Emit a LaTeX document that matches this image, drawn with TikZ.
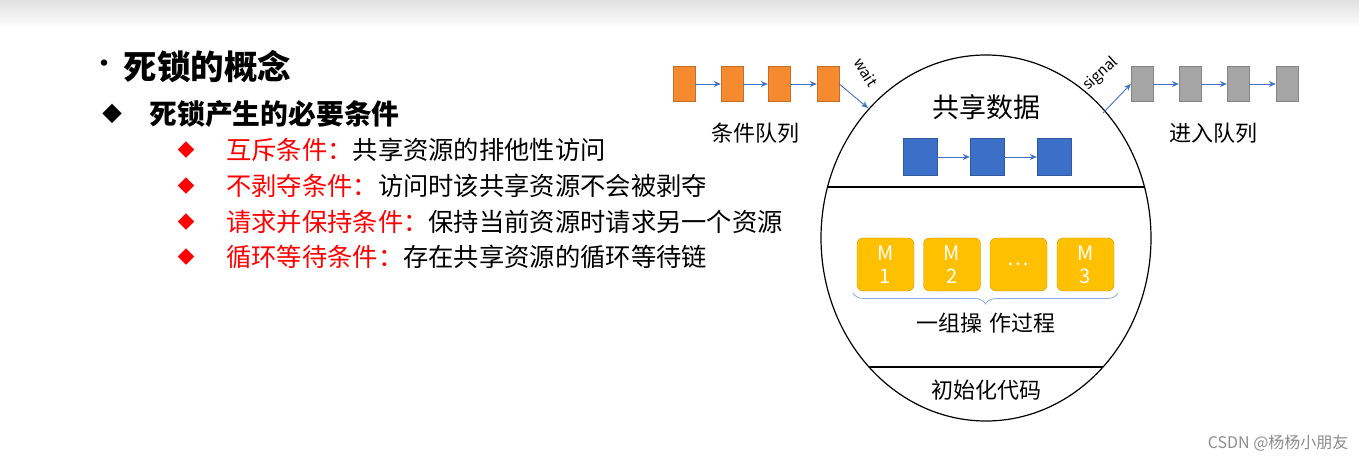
\documentclass[tikz,border=0pt]{standalone}
\usepackage{fontspec}
\setmainfont{Noto Sans CJK SC}
\usetikzlibrary{decorations.pathreplacing,arrows.meta,shapes.geometric}
\definecolor{org}{HTML}{F58A2E}
\definecolor{gry}{HTML}{A5A5A5}
\definecolor{blu}{HTML}{3C6FC8}
\definecolor{mfill}{HTML}{FFC000}
\definecolor{arr}{HTML}{4472C4}
\tikzset{
  fs/.style={font=\fontsize{#1}{#1}\selectfont},
  qbox/.style={draw=#1!80!black,fill=#1,minimum width=22pt,minimum height=35pt,inner sep=0pt},
  bbox/.style={draw=blu!80!black,fill=blu,minimum width=34pt,minimum height=37pt,inner sep=0pt},
  mbox/.style={draw=mfill!80!black,fill=mfill,rounded corners=6pt,minimum width=57pt,minimum height=53pt,inner sep=0pt,text=white,align=center,font=\fontsize{20}{23}\selectfont},
  qarr/.style={draw=arr,-{Stealth[length=7pt,width=6pt]},line width=0.9pt},
}
\begin{document}
\begin{tikzpicture}[x=1pt,y=-1pt]
\useasboundingbox (0,0) rectangle (1359,462);
\shade[top color=black!12,bottom color=white] (0,0) rectangle (1359,28);
% left text
\node[anchor=center,fs=30] (b1) at (104,67) {•};
\node[anchor=west] (t1) at (120,67) {\fontsize{33.5}{34}\selectfont\bfseries 死锁的概念};
\node[anchor=west] (b2) at (99,114) {\fontsize{20}{20}\selectfont ◆};
\node[anchor=west] (t2) at (146,114) {\fontsize{27.8}{28}\selectfont\bfseries 死锁产生的必要条件};
\foreach \y/\r/\b [count=\i] in {150/互斥条件：/共享资源的排他性访问,186/不剥夺条件：/访问时该共享资源不会被剥夺,222/请求并保持条件：/保持当前资源时请求另一个资源,257/循环等待条件：/存在共享资源的循环等待链}{
  \node[anchor=west,text=red] (d\i) at (174,\y) {\fontsize{17}{17}\selectfont ◆};
  \node[anchor=west,inner sep=0pt] (l\i) at (226,\y) {\fontsize{25.3}{26}\selectfont\textcolor{red}{\r}\b};
}
% ellipse
\node[draw,line width=1.2pt,ellipse,minimum width=330pt,minimum height=366pt,inner sep=0pt] (E) at (986,238) {};
\begin{scope}
\clip (986,238) ellipse (165 and 183);
\draw[line width=1.2pt] (800,187) -- (1200,187);
\draw[line width=1.2pt] (800,367) -- (1200,367);
\end{scope}
\node[fs=27] (sd) at (986,107) {共享数据};
\node[bbox] (u1) at (920,157) {};
\node[bbox] (u2) at (987,157) {};
\node[bbox] (u3) at (1054,157) {};
\draw[qarr] (u1) -- (u2);
\draw[qarr] (u2) -- (u3);
% queues
\foreach \x [count=\i] in {684,732,779,828}{\node[qbox=org] (o\i) at (\x,84) {};}
\foreach \x [count=\i] in {1142,1190,1238,1287}{\node[qbox=gry] (g\i) at (\x,84) {};}
\foreach \a/\b in {o1/o2,o2/o3,o3/o4,g1/g2,g2/g3,g3/g4}{\draw[qarr] (\a) -- (\b);}
\coordinate (win) at (868,108);
\coordinate (sout) at (1103,113);
\draw[qarr] (o4.east) -- (win);
\draw[qarr] (sout) -- (g1.west);
\node[rotate=-58,fs=15] (w) at (866,72) {wait};
\node[rotate=42,fs=15] (s) at (1101,74) {signal};
\node[fs=22] (cq) at (755,133) {条件队列};
\node[fs=22] (eq) at (1213,133) {进入队列};
% M boxes
\node[mbox] (m1) at (885.5,264.5) {M\\1};
\node[mbox] (m2) at (952,264.5) {M\\2};
\node[mbox] (m3) at (1018.5,264.5) {…};
\node[mbox] (m4) at (1085.5,264.5) {M\\3};
\draw[draw=arr!60,line width=0.8pt,decorate,decoration={brace,mirror,amplitude=11pt}] (853,293) -- (1118,293);
\node[fs=22] (ops) at (986,323) {一组操\,\,作过程};
\node[fs=22] (init) at (986,390) {初始化代码};
\node[text=black!45,anchor=east] (wm) at (1352,443) {\fontsize{16}{16}\selectfont CSDN @杨杨小朋友};
\end{tikzpicture}
\end{document}
